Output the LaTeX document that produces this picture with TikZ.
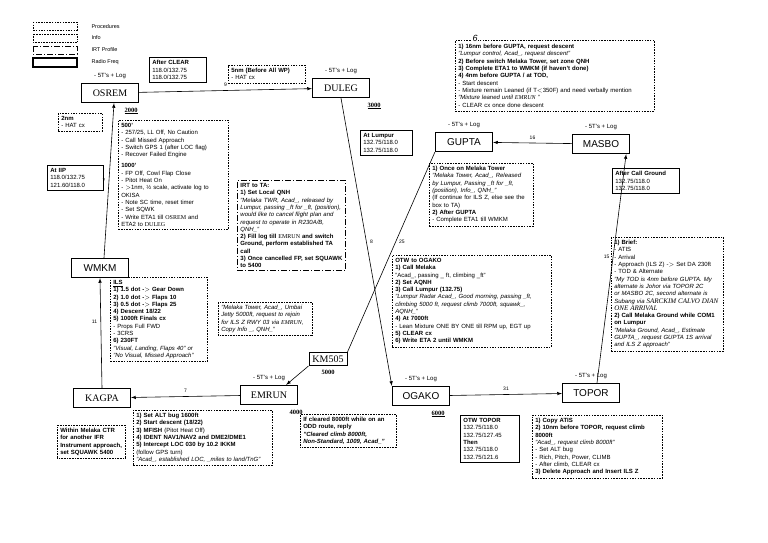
\documentclass[tikz,border=0pt]{standalone}
\usepackage{fontspec}
\usetikzlibrary{positioning}
\setmainfont{Liberation Sans}
\newfontfamily\wpserif{Liberation Serif}
\begin{document}
\hyphenpenalty=10000
\exhyphenpenalty=10000
\begin{tikzpicture}[x=1pt,y=-1pt,
  wp/.style={draw,line width=1.3pt,minimum height=19pt,minimum width=57pt,inner sep=1pt,font=\fontsize{10}{11}\selectfont},
  wps/.style={wp,font=\wpserif\fontsize{10}{11}\selectfont},
  proc/.style={draw,dashed,dash pattern=on 1.5pt off 1.2pt,line width=0.6pt,anchor=north west,align=left,inner sep=3pt,font=\fontsize{6}{7.3}\selectfont},
  info/.style={proc,densely dotted},
  irt/.style={proc,dash pattern=on 6pt off 2pt on 1pt off 2pt,line width=0.9pt},
  radio/.style={draw,line width=0.8pt,anchor=north west,align=left,inner sep=3pt,font=\fontsize{6}{7.3}\selectfont},
  lab/.style={font=\fontsize{6}{7}\selectfont},
  alt/.style={font=\wpserif\bfseries\fontsize{6.5}{7}\selectfont},
  con/.style={line width=0.6pt,-latex},
  num/.style={font=\fontsize{5}{6}\selectfont}]
\useasboundingbox (0,0) rectangle (768,543);
\fill[white] (0,0) rectangle (768,543);
% legend
\draw[dash pattern=on 1.5pt off 1.2pt,line width=0.6pt] (33,22) rectangle (77,30);
\draw[densely dotted,line width=0.6pt] (33,34) rectangle (77,42);
\draw[dash pattern=on 6pt off 2pt on 1pt off 2pt,line width=0.9pt] (33,46) rectangle (77,54);
\draw[line width=1.2pt] (33,58) rectangle (77,67);
\node[lab,anchor=west,font=\fontsize{5.5}{6}\selectfont] (l1) at (88,27) {Procedures};
\node[lab,anchor=west,font=\fontsize{5.5}{6}\selectfont] (l2) at (88,38) {Info};
\node[lab,anchor=west,font=\fontsize{5.5}{6}\selectfont] (l3) at (88,50) {IRT Profile};
\node[lab,anchor=west,font=\fontsize{5.5}{6}\selectfont] (l4) at (88,62) {Radio Freq};
% waypoints
\node[wps] (osrem) at (110,93) {OSREM};
\node[wps] (duleg) at (341,88) {DULEG};
\node[wp]  (wmkm)  at (100,268) {WMKM};
\node[wps] (kagpa) at (102,398) {KAGPA};
\node[wps] (emrun) at (269,395) {EMRUN};
\node[wps,minimum width=38pt,minimum height=13pt,line width=1pt] (km) at (328,359) {KM505};
\node[wp]  (ogako) at (421,396) {OGAKO};
\node[wp]  (topor) at (591,393) {TOPOR};
\node[wp]  (gupta) at (464,142) {GUPTA};
\node[wp]  (masbo) at (601,144) {MASBO};
% 5T's labels
\foreach \n in {osrem,duleg,emrun,ogako,topor,gupta,masbo}
  \node[lab,above=1pt of \n] {- 5T's + Log};
% altitudes
\node[alt,below right=1pt and -18pt of osrem] (a1) {\underline{2000}};
\node[alt,below right=1pt and -6pt of duleg] (a2) {\underline{3000}};
\node[alt,below right=1pt and -12pt of emrun] (a3) {4000};
\node[alt,below=1pt of km] (a4) {5000};
\node[alt,below right=1pt and -22pt of ogako] (a5) {\underline{6000}};
% connectors
\draw[con] (osrem) -- node[num,above]{9} (duleg);
\draw[con] (duleg.south) -- node[num,pos=0.5,right]{8} (ogako.north west);
\draw[line width=0.6pt] (gupta.south west) -- node[num,pos=0.45,right]{25} (km.north east);
\draw[con] (km.south west) -- ([xshift=-12pt]emrun.north east);
\draw[con] (masbo) -- node[num,above]{16} (gupta);
\draw[con] ([xshift=6pt]topor.north) -- node[num,pos=0.55,left]{15} ([xshift=-4pt]masbo.south east);
\draw[con] (ogako) -- node[num,above]{31} (topor);
\draw[con] (emrun) -- node[num,above]{7} (kagpa);
\draw[con] (kagpa.north) -- node[num,pos=0.6,left]{11} (wmkm.south);
\draw[con] ([xshift=4pt]wmkm.north) -- node[num,pos=0.5,left]{7} ([xshift=4pt]osrem.south);
% boxes
\node[radio,text width=51pt] (b1) at (149,57) {\textbf{After CLEAR}\\118.0/132.75\\118.0/132.75};
\node[proc,text width=71pt] (b2) at (228,65) {\textbf{5nm (Before All WP)}\\- HAT cx};
\node[proc,text width=38pt] (b3) at (58,113) {\textbf{2nm}\\- HAT cx};
\node[radio,text width=50pt] (b4) at (47,165) {\textbf{At IIP}\\118.0/132.75\\121.60/118.0};
\node[proc,text width=104pt] (b5) at (118,120) {\textbf{500'}\\- 257/25, LL Off, No Caution\\- Call Missed Approach\\- Switch GPS 1 (after LOC flag)\\- Recover Failed Engine\\[4pt]\textbf{1000'}\\- FP Off, Cowl Flap Close\\- Pitot Heat On\\- $>$1nm, \textonehalf\ scale, activate log to\\OKISA\\- Note SC time, reset timer\\- Set SQWK\\- Write ETA1 till {\wpserif OSREM} and\\ETA2 to {\wpserif DULEG}};
\node[irt,text width=102pt] (b6) at (237,180) {\textbf{IRT to TA:}\\\textbf{1) Set Local QNH}\\\textit{"Melaka TWR, Acad\_, released by Lumpur, passing \_ft for \_ft, (position), would like to cancel flight plan and request to operate in R230A/B, QNH\_"}\\\textbf{2) Fill log till {\wpserif\mdseries EMRUN} and switch Ground, perform established TA call}\\\textbf{3) Once cancelled FP, set SQUAWK to 5400}};
\node[radio,text width=46pt] (b7) at (360,130) {\textbf{At Lumpur}\\132.75/118.0\\132.75/118.0};
\node[proc,text width=193pt,inner ysep=4pt] (b8) at (455,40) {\textbf{1) 16nm before GUPTA, request descent}\\\textit{"Lumpur control, Acad\_, request descent"}\\\textbf{2) Before switch Melaka Tower, set zone QNH}\\\textbf{3) Complete ETA1 to WMKM (if haven't done)}\\\textbf{4) 4nm before GUPTA / at TOD,}\\- Start descent\\- Mixture remain Leaned (if T$<$350F) and need verbally mention\\\textit{"Mixture leaned until {\wpserif EMRUN} "}\\- CLEAR cx once done descent};
\node[fill=white,inner sep=0.3pt,font=\fontsize{9}{9}\selectfont\itshape] (six) at (475,38) {6};
\node[proc,text width=98pt] (b9) at (429,163) {\textbf{1) Once on Melaka Tower}\\\textit{"Melaka Tower, Acad\_, Released by Lumpur, Passing \_ft for \_ft, (position), Info\_, QNH\_"}\\(If continue for ILS Z, else see the box to TA)\\\textbf{2) After GUPTA}\\- Complete ETA1 till WMKM};
\node[radio,text width=61pt] (b10) at (612,168) {\textbf{After Call Ground}\\132.75/118.0\\132.75/118.0};
\node[proc,text width=106pt] (b11) at (611,237) {\textbf{1) Brief:}\\- ATIS\\- Arrival\\- Approach (ILS Z) -$>$ Set DA 230ft\\- TOD \& Alternate\\\textit{"My TOD is 4nm before GUPTA. My alternate is Johor via TOPOR 2C or MASBO 2C, second alternate is Subang via {\wpserif\scriptsize SARCKIM CALVO DIAN ONE ARRIVAL}}\\\textbf{2) Call Melaka Ground while COM1 on Lumpur}\\\textit{"Melaka Ground, Acad\_, Estimate GUPTA\_, request GUPTA 1S arrival and ILS Z approach"}};
\node[proc,text width=153pt] (b12) at (392,255) {\textbf{OTW to OGAKO}\\\textbf{1) Call Melaka}\\"Acad\_, passing \_ ft, climbing \_ft"\\\textbf{2) Set AQNH}\\\textbf{3) Call Lumpur (132.75)}\\\textit{"Lumpur Radar Acad\_, Good morning, passing \_ft, climbing 5000 ft, request climb 7000ft, squawk\_, AQNH\_"}\\\textbf{4) At 7000ft}\\- Lean Mixture ONE BY ONE till RPM up, EGT up\\\textbf{5) CLEAR cx}\\\textbf{6) Write ETA 2 until WMKM}};
\node[proc,text width=91pt] (b13) at (110,277) {\textbf{\underline{ILS}}\\\textbf{1) 1.5 dot -$>$ Gear Down}\\\textbf{2) 1.0 dot -$>$ Flaps 10}\\\textbf{3) 0.5 dot -$>$ Flaps 25}\\\textbf{4) Descent 18/22}\\\textbf{5) 1000ft Finals cx}\\- Props Full FWD\\- 3CRS\\\textbf{6) 230FT}\\\textit{"Visual, Landing, Flaps 40" or "No Visual, Missed Approach"}};
\node[info,text width=88pt] (b14) at (218,302) {\textit{"Melaka Tower, Acad\_, Umbai Jetty 5000ft, request to rejoin for ILS Z RWY 03 via {\wpserif EMRUN}, Copy Info \_, QNH\_"}};
\node[info,text width=62pt] (b15) at (57,425) {\textbf{Within Melaka CTR for another IFR Instrument approach, set SQUAWK 5400}};
\node[proc,text width=133pt] (b16) at (133,410) {\textbf{1) Set ALT bug 1600ft}\\\textbf{2) Start descent (18/22)}\\\textbf{3) MFISH} (Pitot Heat Off)\\\textbf{4) IDENT NAV1/NAV2 and DME2/DME1}\\\textbf{5) Intercept LOC 030 by 10.2 IKKM}\\(follow GPS turn)\\\textit{"Acad\_, established LOC, \_miles to land/TnG"}};
\node[info,text width=90pt] (b17) at (300,414) {\textbf{If cleared 8000ft while on an ODD route, reply}\\\textbf{\textit{"Cleared climb 8000ft, Non-Standard, 1009, Acad\_"}}};
\node[radio,text width=53pt] (b18) at (460,415) {\textbf{OTW TOPOR}\\132.75/118.0\\132.75/127.45\\\textbf{Then}\\132.75/118.0\\132.75/121.6};
\node[proc,text width=124pt] (b19) at (532,415) {\textbf{1) Copy ATIS}\\\textbf{2) 10nm before TOPOR, request climb 8000ft}\\\textit{"Acad\_, request climb 8000ft"}\\- Set ALT bug\\- Rich, Pitch, Power, CLIMB\\- After climb, CLEAR cx\\\textbf{3) Delete Approach and Insert ILS Z}};
\end{tikzpicture}
\end{document}
